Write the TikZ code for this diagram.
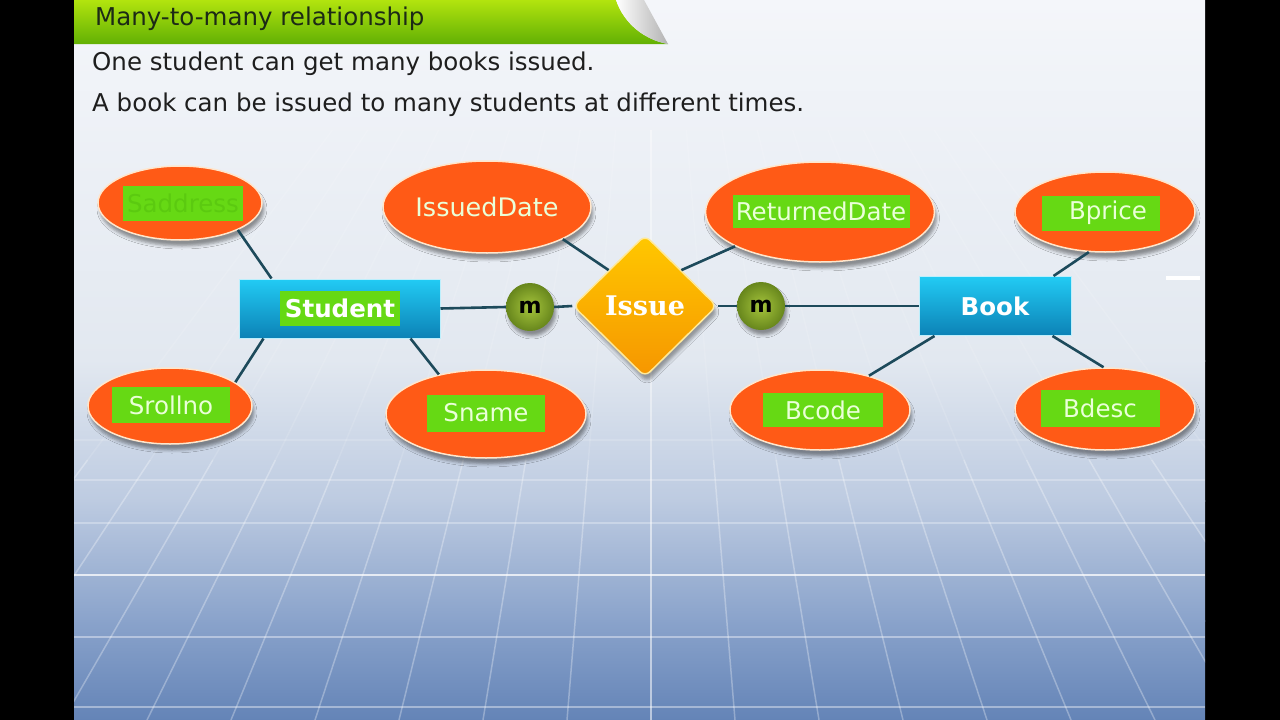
\documentclass[tikz,border=0pt]{standalone}
\usepackage{fontspec}
\setmainfont{DejaVu Sans}
\newfontfamily\serifbold{DejaVu Serif}
\usetikzlibrary{shapes.geometric,shadows.blur,calc}
\definecolor{attrorange}{HTML}{FF5A16}
\definecolor{attrborder}{HTML}{FFE6CC}
\definecolor{lblgreen}{HTML}{66D914}
\definecolor{lbltext}{HTML}{EAFFD8}
\definecolor{saddtext}{HTML}{5BCA10}
\definecolor{entt}{HTML}{22CBF4}
\definecolor{entb}{HTML}{0C82B6}
\definecolor{edgecol}{HTML}{1D4A5B}
\definecolor{minner}{HTML}{A6C53C}
\definecolor{mouter}{HTML}{67861C}
\definecolor{isstop}{HTML}{FFC800}
\definecolor{issbot}{HTML}{F69600}
\definecolor{bga}{HTML}{F4F6FA}
\definecolor{bgb}{HTML}{E2E8F0}
\definecolor{bgc}{HTML}{BDCBE1}
\definecolor{bgd}{HTML}{8AA3CB}
\definecolor{bge}{HTML}{6484B7}
\definecolor{tga}{HTML}{B2E40E}
\definecolor{tgb}{HTML}{62B004}
\definecolor{titletext}{HTML}{1C2A16}
\definecolor{bodytext}{HTML}{1E1E1E}
\begin{document}
\begin{tikzpicture}[x=1pt,y=-1pt,
  attr/.style={ellipse, fill=attrorange, draw=attrborder, line width=1.5pt, inner sep=0pt,
    blur shadow={shadow xshift=2pt, shadow yshift=-6pt, shadow blur radius=3pt, shadow opacity=40}},
  gbox/.style={rectangle, fill=lblgreen, inner sep=0pt, text=lbltext, font=\fontsize{24.5}{27}\selectfont},
  ent/.style={rectangle, top color=entt, bottom color=entb, draw=white!70!entt, line width=1pt,
    inner sep=0pt, minimum height=59pt, text=white, font=\bfseries\fontsize{24.5}{28}\selectfont},
  card/.style={circle, inner sep=0pt, minimum size=48pt, shading=radial, inner color=minner, outer color=mouter,
    font=\bfseries\fontsize{22}{24}\selectfont, text=black,
    blur shadow={shadow xshift=2pt, shadow yshift=-5pt, shadow blur radius=3pt, shadow opacity=40}},
  rel/.style={diamond, inner sep=0pt, minimum width=144pt, minimum height=142pt, rounded corners=7pt,
    top color=isstop, bottom color=issbot, draw=white!60!isstop, line width=1.5pt,
    text=white, font=\serifbold\bfseries\fontsize{27}{30}\selectfont,
    blur shadow={shadow xshift=2pt, shadow yshift=-6pt, shadow blur radius=3pt, shadow opacity=35}},
  edge/.style={draw=edgecol, line width=2.6pt},
  gridline/.style={draw=white, line width=1.5pt}]
\useasboundingbox (0,0) rectangle (1280,720);
% slide background
\fill[black] (0,0) rectangle (1280,720);
\shade[top color=bga, bottom color=bgb] (74,0) rectangle (1205,361);
\shade[top color=bgb, bottom color=bgc] (74,360) rectangle (1205,501);
\shade[top color=bgc, bottom color=bgd] (74,500) rectangle (1205,621);
\shade[top color=bgd, bottom color=bge] (74,620) rectangle (1205,720);
\begin{scope}
  \clip (74,130) rectangle (1205,720);
  \foreach \k in {-9,...,9} {
    \draw[gridline, opacity=0.12] (651+62.6*\k,460) -- (651+35.4*\k,130);
    \draw[gridline, opacity=0.3] (651+84*\k,720) -- (651+62.6*\k,460);
  }
  \draw[gridline, opacity=0.35] (651,130) -- (651,720);
  \foreach \yy/\op in {440/0.15,480/0.25,523/0.3,575/0.75,637/0.4,707/0.4} {
    \draw[draw=white, line width=1.8pt, opacity=\op] (74,\yy) -- (1205,\yy);
  }
\end{scope}
\fill[white] (1166,276) rectangle (1200,280);
% title bar with page curl
\shade[top color=tga, bottom color=tgb] (74,0) -- (616,0) .. controls (624,24) and (645,40) .. (668,44) -- (74,44) -- cycle;
\shade[left color=white, right color=black!30] (616,0) .. controls (624,24) and (645,40) .. (668,44) -- (644,0) -- cycle;

\node[anchor=west, text=titletext, font=\fontsize{24.5}{28}\selectfont, inner sep=0pt] (title) at (95,19) {Many-to-many relationship};
\node[anchor=west, text=bodytext, font=\fontsize{24.5}{28}\selectfont, inner sep=0pt] (line1) at (92,64) {One student can get many books issued.};
\node[anchor=west, text=bodytext, font=\fontsize{24.5}{28}\selectfont, inner sep=0pt] (line2) at (92,105) {A book can be issued to many students at different times.};

% attributes
\node[attr, minimum width=164pt, minimum height=74pt] (sadd) at (180,203) {};
\node[gbox, minimum width=120pt, minimum height=35pt, text=saddtext] (saddt) at (183,203) {Saddress};
\node[attr, minimum width=208pt, minimum height=92pt, text=lbltext, font=\fontsize{25.5}{28}\selectfont] (issd) at (487,207) {IssuedDate};
\node[attr, minimum width=229pt, minimum height=100pt] (retd) at (820,212) {};
\node[gbox, minimum width=177pt, minimum height=33pt] (retdt) at (821,211) {ReturnedDate};
\node[attr, minimum width=180pt, minimum height=80pt] (bpri) at (1105,212) {};
\node[gbox, minimum width=118pt, minimum height=35pt] (bprit) at (1101,213) {\hspace*{14pt}Bprice};
\node[attr, minimum width=164pt, minimum height=76pt] (srol) at (170,406) {};
\node[gbox, minimum width=118pt, minimum height=36pt] (srolt) at (171,405) {Srollno};
\node[attr, minimum width=200pt, minimum height=88pt] (snam) at (486,414) {};
\node[gbox, minimum width=118pt, minimum height=37pt] (snamt) at (486,413) {Sname};
\node[attr, minimum width=180pt, minimum height=80pt] (bcod) at (820,410) {};
\node[gbox, minimum width=120pt, minimum height=34pt] (bcodt) at (823,410) {Bcode};
\node[attr, minimum width=180pt, minimum height=82pt] (bdes) at (1105,409) {};
\node[gbox, minimum width=119pt, minimum height=37pt] (bdest) at (1100,408) {Bdesc};

% entities and relationship
\node[ent, minimum width=201pt] (student) at (339.5,308.5) {};
\node[gbox, minimum width=120pt, minimum height=35pt, text=white, font=\bfseries\fontsize{24.5}{28}\selectfont] (studentt) at (340,308) {Student};
\node[ent, minimum width=152pt] (book) at (995,306) {Book};
\node[rel] (issue) at (645,306) {Issue};
\node[card] (m1) at (530,307) {m};
\node[card] (m2) at (761,306) {m};

% connectors
\draw[edge] (student.east) -- (m1.west);
\draw[edge] (m1.east) -- (issue.west);
\draw[edge] (issue.east) -- (m2.west);
\draw[edge] (m2.east) -- (book.west);
\draw[edge] (sadd.-25) -- ([xshift=33pt]student.north west);
\draw[edge] (srol.20) -- ([xshift=25pt]student.south west);
\draw[edge] (snam.140) -- ([xshift=-30pt]student.south east);
\draw[edge] (issd.-23) -- (issue.north west);
\draw[edge] (retd.202) -- (issue.north east);
\draw[edge] (bpri.248) -- ([xshift=-18pt]book.north east);
\draw[edge] (bcod.35) -- ([xshift=16pt]book.south west);
\draw[edge] (bdes.92) -- ([xshift=-19pt]book.south east);
\end{tikzpicture}
\end{document}
